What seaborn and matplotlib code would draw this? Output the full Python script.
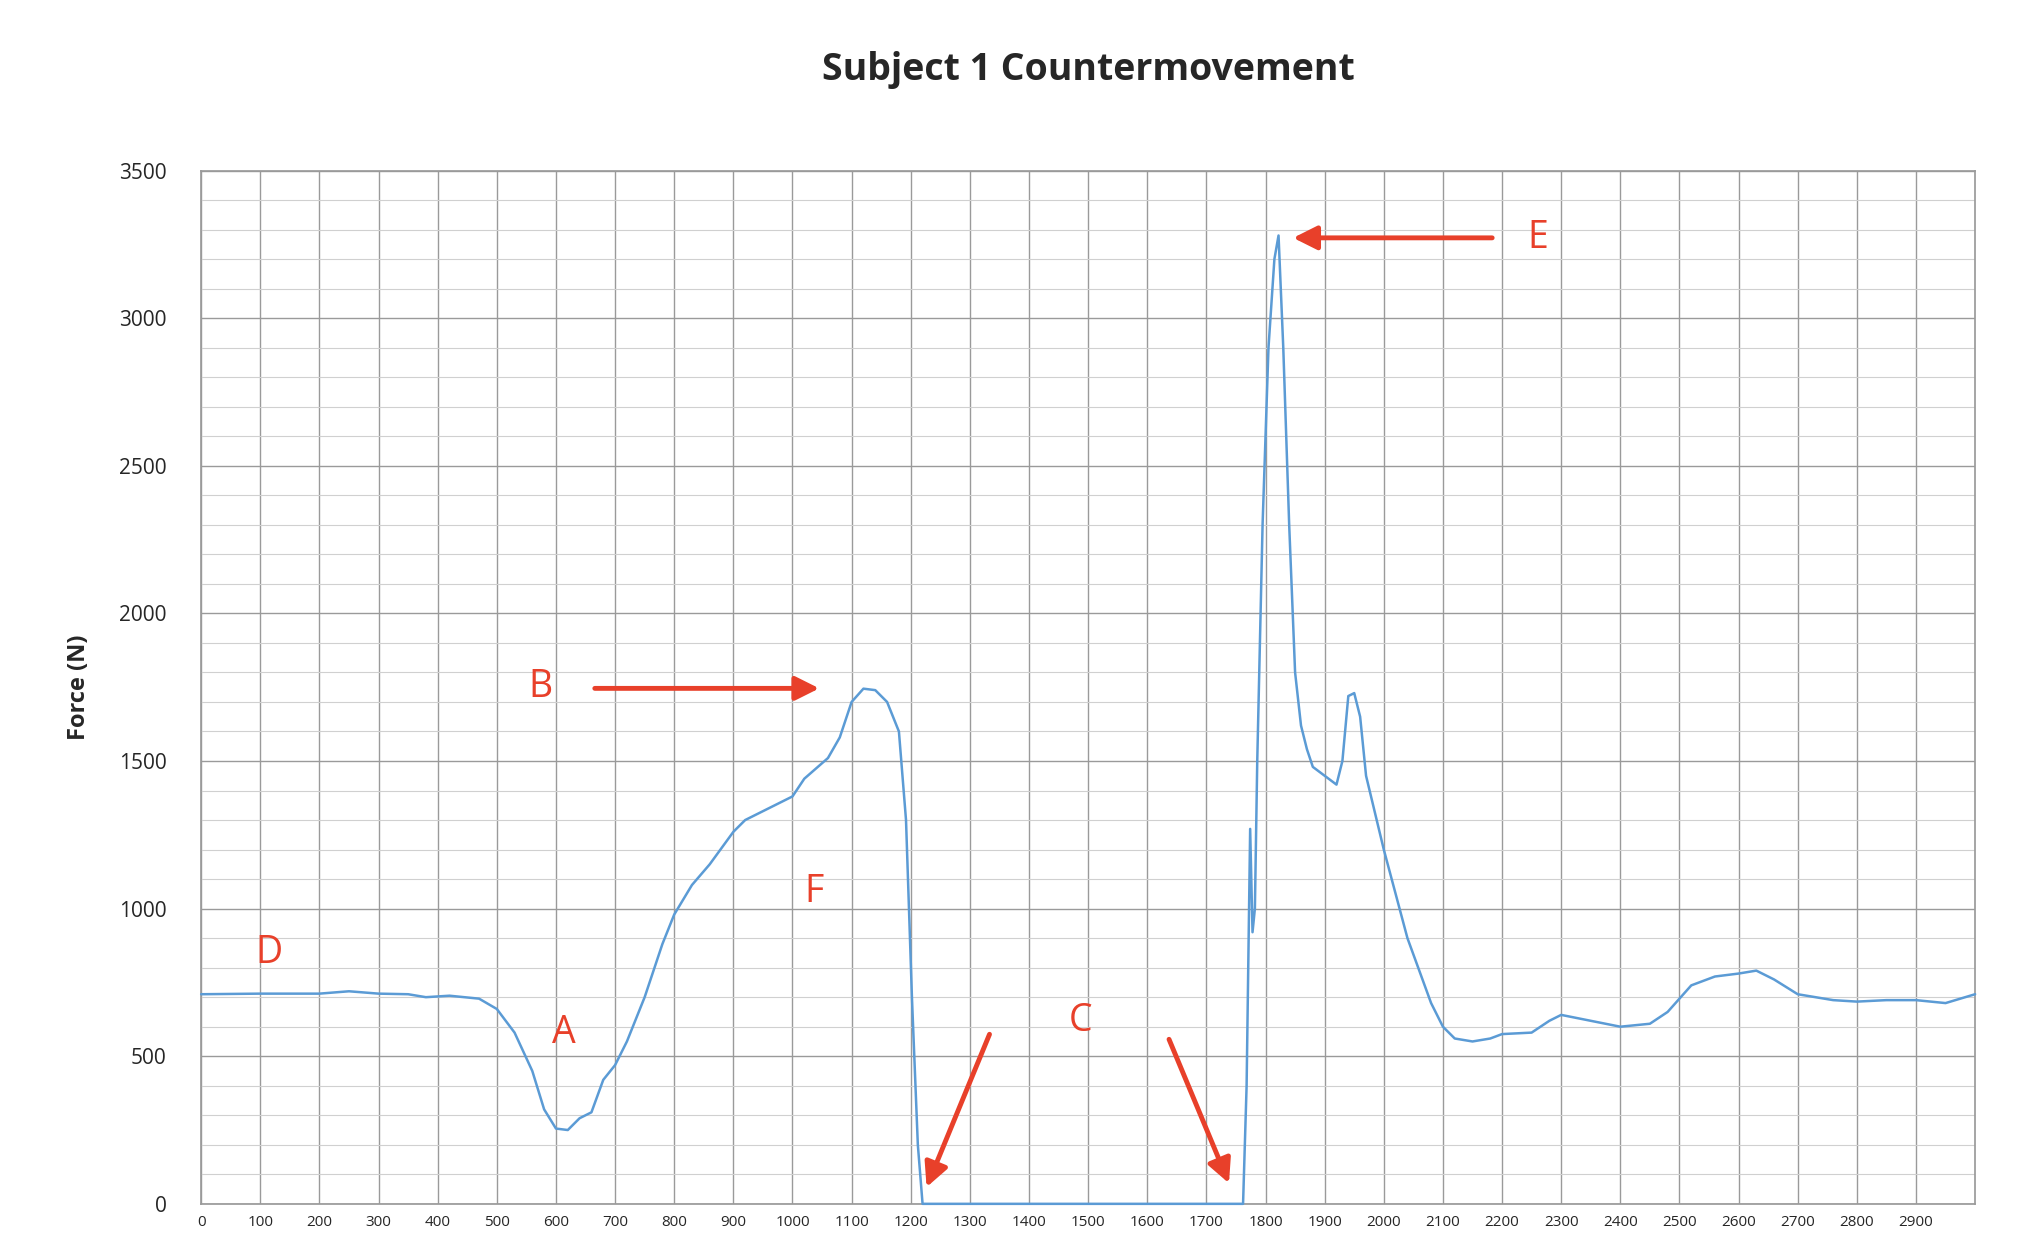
import matplotlib
matplotlib.use("Agg")
import matplotlib.pyplot as plt
import seaborn as sns
import pandas as pd

time_ms = [0,100,200,250,300,350,380,420,470,500,530,560,580,600,620,640,660,680,700,720,750,780,800,830,860,900,920,960,1000,1020,1060,1080,1100,1120,1140,1160,1180,1192,1202,1212,1220,1500,1762,1768,1774,1778,1782,1786,1795,1805,1815,1822,1830,1840,1850,1860,1870,1880,1900,1920,1930,1940,1950,1960,1970,2000,2040,2080,2100,2120,2150,2180,2200,2250,2280,2300,2350,2400,2450,2480,2520,2560,2600,2630,2660,2700,2760,2800,2850,2900,2950,3000]
force_n = [710,712,712,720,712,710,700,705,695,660,580,450,320,255,250,290,310,420,470,550,700,880,980,1080,1150,1260,1300,1340,1380,1440,1510,1580,1700,1745,1740,1700,1600,1300,700,200,0,0,0,400,1270,920,1000,1500,2300,2900,3200,3280,2900,2300,1800,1620,1540,1480,1450,1420,1500,1720,1730,1650,1450,1200,900,680,600,560,550,560,575,580,620,640,620,600,610,650,740,770,780,790,760,710,690,685,690,690,680,710]

labels = ["D","A","B","F","C","E"]
label_x = [114,613,573,1037,1488,2260]
label_y = [851,579,1750,1057,618,3272]
arrow_start = [(661,1746),(2188,3272),(1335,583),(1635,566)]
arrow_end = [(1050,1746),(1842,3272),(1225,48),(1740,61)]

df = pd.DataFrame({"t": time_ms, "f": force_n})
sns.set_theme(style="white")
plt.rcParams['font.family'] = ['Open Sans', 'DejaVu Sans']

fig = plt.figure(figsize=(20.32, 12.54), dpi=100)
ax = fig.add_axes([0.099, 0.040, 0.873, 0.824])
sns.lineplot(data=df, x="t", y="f", ax=ax, color="#5b9bd5", linewidth=1.8, clip_on=False, zorder=5)
ax.set_xlim(0, 3000)
ax.set_ylim(0, 3500)
ax.set_xticks(range(0, 3000, 100))
ax.set_yticks(range(0, 3501, 500))
ax.set_yticks(range(0, 3501, 100), minor=True)
ax.grid(which="major", color="#9a9a9a", linewidth=1.0)
ax.grid(which="minor", axis="y", color="#d0d0d0", linewidth=0.8)
ax.set_axisbelow(True)
for s in ax.spines.values():
    s.set_color("#9a9a9a")
ax.tick_params(axis="x", labelsize=11, length=0, pad=8)
ax.tick_params(axis="y", labelsize=15, length=0, pad=25)
ax.set_xlabel("")
ax.set_ylabel("Force (N)", fontsize=17, fontweight="bold", labelpad=20)
ax.set_title("Subject 1 Countermovement", fontsize=27, fontweight="bold", pad=65)
red = "#e8402a"
for t, x, y in zip(labels, label_x, label_y):
    ax.text(x, y, t, color=red, fontsize=27, ha="center", va="center")
for s, e in zip(arrow_start, arrow_end):
    ax.annotate("", xy=e, xytext=s,
                arrowprops=dict(arrowstyle="-|>,head_width=0.6,head_length=1.2", color=red, lw=3.5))
fig.savefig("out.png", dpi=100)
